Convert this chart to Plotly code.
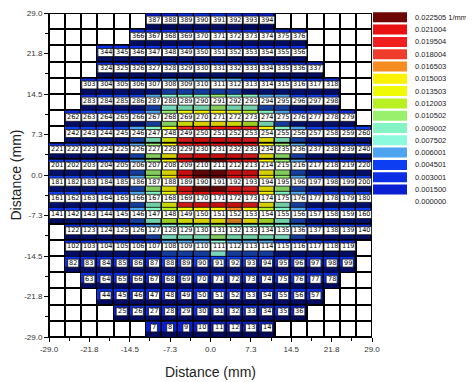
import plotly.graph_objects as go

# ---------------- data ----------------
N_COLS = 20
N_ROWS = 20
X_MIN, X_MAX = -29.0, 29.0
Y_MIN, Y_MAX = -29.0, 29.0

# first filled column of every row (row 0 = bottom row)
row_first_col = [6, 4, 3, 2, 1, 1, 1, 0, 0, 0, 0, 0, 1, 1, 2, 2, 3, 3, 5, 6]

# values (1/mm) of the filled cells of every row, bottom row first
row_values = [
    [0.0011, 0.0012, 0.0013, 0.0014, 0.0014, 0.0013, 0.0012, 0.0011],
    [0.0013, 0.0015, 0.0017, 0.0018, 0.0019, 0.0020, 0.0020, 0.0019, 0.0018, 0.0017, 0.0015, 0.0013],
    [0.0016, 0.0018, 0.0020, 0.0022, 0.0023, 0.0024, 0.0024, 0.0024, 0.0023, 0.0022, 0.0020, 0.0018,
     0.0016, 0.0015],
    [0.0018, 0.0020, 0.0022, 0.0024, 0.0026, 0.0027, 0.0028, 0.0028, 0.0028, 0.0027, 0.0026, 0.0024,
     0.0022, 0.0020, 0.0018, 0.0016],
    [0.0020, 0.0022, 0.0024, 0.0026, 0.0028, 0.0030, 0.0031, 0.0032, 0.0033, 0.0033, 0.0032, 0.0031,
     0.0029, 0.0027, 0.0025, 0.0023, 0.0021, 0.0019],
    [0.0026, 0.0029, 0.0032, 0.0035, 0.0038, 0.0042, 0.0047, 0.0052, 0.0058, 0.0062, 0.0060, 0.0056,
     0.0050, 0.0043, 0.0037, 0.0033, 0.0030, 0.0027],
    [0.0030, 0.0033, 0.0036, 0.0040, 0.0044, 0.0053, 0.0075, 0.0085, 0.0090, 0.0095, 0.0090, 0.0086,
     0.0078, 0.0062, 0.0046, 0.0040, 0.0036, 0.0033, 0.0030],
    [0.0030, 0.0033, 0.0036, 0.0039, 0.0043, 0.0055, 0.0085, 0.0112, 0.0128, 0.0140, 0.0145, 0.0152,
     0.0140, 0.0118, 0.0082, 0.0052, 0.0042, 0.0037, 0.0034, 0.0031],
    [0.0031, 0.0034, 0.0037, 0.0040, 0.0044, 0.0057, 0.0088, 0.0135, 0.0192, 0.0200, 0.0202, 0.0200,
     0.0188, 0.0138, 0.0085, 0.0053, 0.0043, 0.0038, 0.0035, 0.0032],
    [0.0031, 0.0034, 0.0037, 0.0041, 0.0045, 0.0058, 0.0098, 0.0142, 0.0200, 0.0218, 0.0215, 0.0205,
     0.0195, 0.0140, 0.0098, 0.0055, 0.0044, 0.0039, 0.0035, 0.0032],
    [0.0031, 0.0034, 0.0037, 0.0041, 0.0045, 0.0058, 0.0100, 0.0145, 0.0200, 0.0220, 0.0218, 0.0208,
     0.0196, 0.0146, 0.0100, 0.0056, 0.0044, 0.0039, 0.0035, 0.0032],
    [0.0030, 0.0033, 0.0036, 0.0040, 0.0044, 0.0056, 0.0095, 0.0140, 0.0195, 0.0208, 0.0210, 0.0205,
     0.0192, 0.0142, 0.0097, 0.0054, 0.0043, 0.0038, 0.0034, 0.0031],
    [0.0032, 0.0035, 0.0038, 0.0042, 0.0050, 0.0080, 0.0133, 0.0190, 0.0200, 0.0202, 0.0198, 0.0186,
     0.0138, 0.0090, 0.0055, 0.0043, 0.0038, 0.0034, 0.0031],
    [0.0029, 0.0032, 0.0035, 0.0038, 0.0042, 0.0056, 0.0100, 0.0128, 0.0138, 0.0140, 0.0135, 0.0118,
     0.0082, 0.0055, 0.0044, 0.0038, 0.0034, 0.0030],
    [0.0030, 0.0033, 0.0036, 0.0040, 0.0046, 0.0068, 0.0085, 0.0088, 0.0092, 0.0088, 0.0078, 0.0060,
     0.0046, 0.0040, 0.0035, 0.0031],
    [0.0026, 0.0029, 0.0032, 0.0035, 0.0040, 0.0046, 0.0050, 0.0050, 0.0048, 0.0046, 0.0043, 0.0040,
     0.0036, 0.0033, 0.0030, 0.0027],
    [0.0022, 0.0025, 0.0028, 0.0031, 0.0034, 0.0036, 0.0037, 0.0036, 0.0035, 0.0033, 0.0031, 0.0028,
     0.0025, 0.0022],
    [0.0018, 0.0021, 0.0024, 0.0027, 0.0029, 0.0031, 0.0032, 0.0031, 0.0029, 0.0027, 0.0024, 0.0021,
     0.0018],
    [0.0016, 0.0019, 0.0022, 0.0024, 0.0026, 0.0027, 0.0026, 0.0024, 0.0022, 0.0019, 0.0016],
    [0.0012, 0.0014, 0.0016, 0.0018, 0.0018, 0.0016, 0.0014, 0.0012],
]

# colour levels of the legend (1/mm)
level_values = [0.000000, 0.001500, 0.003001, 0.004501, 0.006001, 0.007502, 0.009002, 0.010502,
                0.012003, 0.013503, 0.015003, 0.016503, 0.018004, 0.019504, 0.021004, 0.022505]
level_labels = ["0.000000", "0.001500", "0.003001", "0.004501", "0.006001", "0.007502", "0.009002",
                "0.010502", "0.012003", "0.013503", "0.015003", "0.016503", "0.018004", "0.019504",
                "0.021004", "0.022505 1/mm"]
level_colors = ["#0a1ed2", "#0c2ee4", "#0e3ef2", "#4ea4ee", "#8cfadc", "#84f4c4", "#98f06c",
                "#b8f024", "#eefa06", "#faf200", "#f48c20", "#f03c2c", "#f01e1e", "#e81010", "#6e0606"]
level_dark_colors = ["#00095a", "#010c62", "#02106c", "#143c9c", "#77d5bb", "#70cfa7", "#81cc5c",
                     "#9ccc1f", "#cad505", "#d5ce00", "#cf771b", "#cc3325", "#cc1a1a", "#c50e0e", "#5e0505"]

tick_values = [-29.0, -21.75, -14.5, -7.25, 0.0, 7.25, 14.5, 21.75, 29.0]
tick_labels = ["-29.0", "-21.8", "-14.5", "-7.3", "0.0", "7.3", "14.5", "21.8", "29.0"]
minor_tick_values = [-25.375, -18.125, -10.875, -3.625, 3.625, 10.875, 18.125, 25.375]

axis_title = "Distance (mm)"

# ---------------- build ----------------
W, H = 474, 382
PAGE_MARGIN = 8          # default body margin of the html page
PLOT_L, PLOT_R, PLOT_T, PLOT_B = 49, 372, 13, 337   # target plot area in window pixels
mm_per_px_x = (X_MAX - X_MIN) / (PLOT_R - PLOT_L)
mm_per_px_y = (Y_MAX - Y_MIN) / (PLOT_B - PLOT_T)

cw = (X_MAX - X_MIN) / N_COLS
ch = (Y_MAX - Y_MIN) / N_ROWS
x_centers = [X_MIN + cw * (c + 0.5) for c in range(N_COLS)]
y_centers = [Y_MIN + ch * (r + 0.5) for r in range(N_ROWS)]
x_edges = [X_MIN + cw * c for c in range(N_COLS + 1)]

zmax = level_values[-1]


def step_scale(colors):
    sc = []
    for i, col in enumerate(colors):
        sc.append([level_values[i] / zmax, col])
        sc.append([level_values[i + 1] / zmax, col])
    return sc


filled = [[None] * N_COLS for _ in range(N_ROWS)]
empty = [[1] * N_COLS for _ in range(N_ROWS)]
for r in range(N_ROWS):
    for k, v in enumerate(row_values[r]):
        c = row_first_col[r] + k
        filled[r][c] = v
        empty[r][c] = None

# bands inside each cell (fractions of cell height): dark lower band + coloured upper band
DARK_LO, SPLIT, TOP_HI = 0.04, 0.33, 0.96
top_edges, top_z, dark_edges, dark_z = [], [], [], []
for r in range(N_ROWS):
    b = Y_MIN + ch * r
    top_edges += [b + SPLIT * ch, b + TOP_HI * ch]
    dark_edges += [b + DARK_LO * ch, b + SPLIT * ch]
    top_z.append(filled[r])
    dark_z.append(filled[r])
    if r < N_ROWS - 1:
        top_z.append([None] * N_COLS)
        dark_z.append([None] * N_COLS)

fig = go.Figure()
fig.add_trace(go.Heatmap(x=x_centers, y=y_centers, z=empty, colorscale=[[0, "white"], [1, "white"]],
                         showscale=False, xgap=2, ygap=2, hoverinfo="skip"))
fig.add_trace(go.Heatmap(x=x_edges, y=dark_edges, z=dark_z, colorscale=step_scale(level_dark_colors),
                         zmin=0, zmax=zmax, showscale=False, xgap=1.5, ygap=0, hoverinfo="skip"))
fig.add_trace(go.Heatmap(x=x_edges, y=top_edges, z=top_z, colorscale=step_scale(level_colors),
                         zmin=0, zmax=zmax, showscale=False, xgap=1.5, ygap=0))

annotations = []
shapes = []
BOX_H_PX = 8.0
for r in range(N_ROWS):
    for k in range(len(row_values[r])):
        c = row_first_col[r] + k
        num = r * N_COLS + c + 1
        txt = str(num)
        yc = Y_MIN + ch * r + 0.56 * ch
        bw = (4.2 * len(txt) + 2.6) * mm_per_px_x
        bh = BOX_H_PX * mm_per_px_y
        shapes.append(dict(type="rect", xref="x", yref="y", layer="above",
                           x0=x_centers[c] - bw / 2, x1=x_centers[c] + bw / 2,
                           y0=yc - bh / 2, y1=yc + bh / 2,
                           fillcolor="white", line=dict(color="#111111", width=0.8)))
        annotations.append(dict(
            x=x_centers[c], y=yc, xref="x", yref="y", text=txt, yshift=0.5,
            showarrow=False, font=dict(family="DejaVu Sans", size=6.5, color="black")))

# legend (level swatches) on the right
n_lab = len(level_values)
for i in range(n_lab):
    idx = n_lab - 1 - i          # i = 0 -> top label
    py = 17.3 + 12.3 * i
    yp = (PLOT_B - py) / (PLOT_B - PLOT_T)
    annotations.append(dict(
        x=(413 - PLOT_L) / (PLOT_R - PLOT_L), y=yp, xref="paper", yref="paper",
        text=level_labels[idx], showarrow=False, xanchor="left", yanchor="middle",
        font=dict(family="Liberation Sans", size=7.5, color="#222222")))
    if idx >= 1:
        col = level_colors[idx - 1]
        h = 5 / (PLOT_B - PLOT_T)
        shapes.append(dict(type="rect", xref="paper", yref="paper",
                           x0=(373 - PLOT_L) / (PLOT_R - PLOT_L), x1=(407 - PLOT_L) / (PLOT_R - PLOT_L),
                           y0=yp - h, y1=yp + h, fillcolor=col, line=dict(width=0)))

axis_common = dict(
    range=[X_MIN, X_MAX], tickmode="array", tickvals=tick_values, ticktext=tick_labels,
    ticks="outside", ticklen=4, tickwidth=1, tickcolor="black", automargin=False,
    showline=True, linecolor="black", linewidth=1, showgrid=False, zeroline=False,
    tickfont=dict(family="Liberation Sans", size=8, color="#333333"),
    minor=dict(tickmode="array", tickvals=minor_tick_values, ticks="outside", ticklen=3,
               tickcolor="black", showgrid=False),
)

fig.update_layout(
    width=W - PAGE_MARGIN, height=H - PAGE_MARGIN,
    margin=dict(l=PLOT_L - PAGE_MARGIN, r=W - PLOT_R, t=PLOT_T - PAGE_MARGIN, b=H - PLOT_B,
                autoexpand=False),
    paper_bgcolor="white", plot_bgcolor="black",
    xaxis=dict(axis_common, title=dict(text=axis_title, standoff=14,
                                       font=dict(family="Liberation Sans", size=14, color="#222222"))),
    yaxis=dict(axis_common, range=[Y_MIN, Y_MAX],
               title=dict(text=axis_title, standoff=3,
                          font=dict(family="Liberation Sans", size=14, color="#222222"))),
    annotations=annotations, shapes=shapes, showlegend=False,
)

fig.write_html("out.html")
